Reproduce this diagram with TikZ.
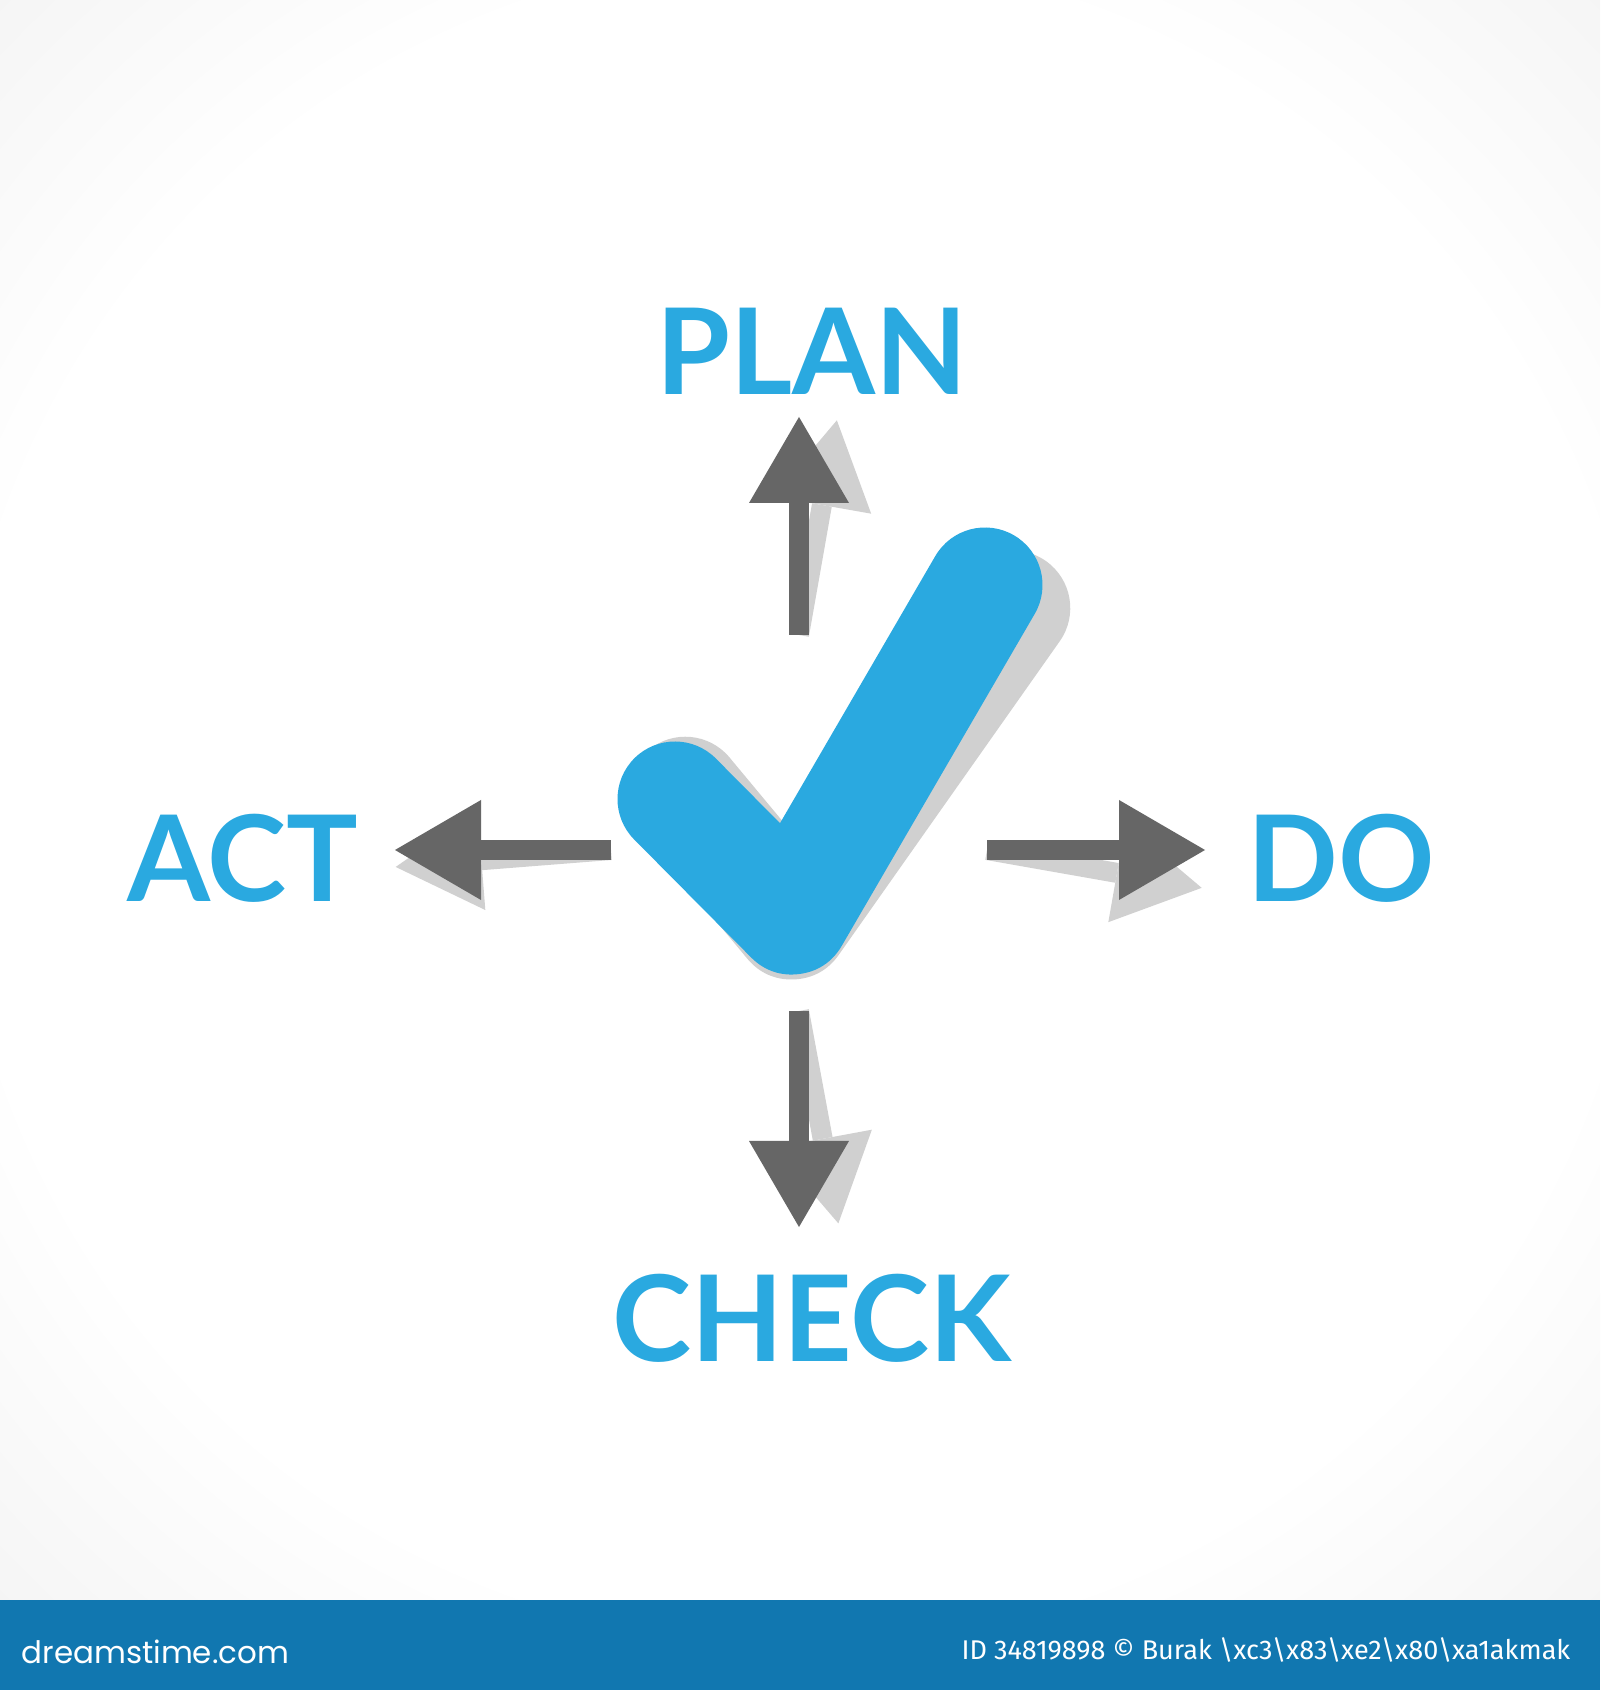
\documentclass[tikz,border=0pt]{standalone}
\usepackage{fontspec}
\setmainfont{Lato}
\newfontfamily\barfont{Fira Sans}
\newfontfamily\logofont{Poppins}
\usetikzlibrary{arrows.meta, positioning}
\definecolor{pdcablue}{RGB}{42,169,224}
\definecolor{arrowgray}{RGB}{102,102,102}
\definecolor{shadowgray}{RGB}{208,208,208}
\definecolor{barblue}{RGB}{17,119,176}
\definecolor{bgedge}{RGB}{230,230,230}
\definecolor{bgcorner}{RGB}{222,222,222}
\pgfdeclareradialshading{bgglow}{\pgfpoint{0bp}{0bp}}{color(0bp)=(white); color(26bp)=(white); color(50bp)=(bgedge); color(72bp)=(bgcorner)}

\tikzset{
  blockarrow/.style={draw=arrowgray, line width=0.2cm, -{Triangle[length=0.86cm, width=1cm, line width=0pt]}},
  shadowarrow/.style={blockarrow, draw=shadowgray},
  steplabel/.style={text=pdcablue, inner sep=0pt, font=\fontsize{34}{34}\selectfont\bfseries},
}

\begin{document}
\begin{tikzpicture}
    \useasboundingbox (-7.99,8.50) rectangle (8.01,-8.40);
    % Background with soft grey edges and the footer bar
    \shade[shading=bgglow] (-7.99,8.50) rectangle (8.01,-7.50);
    \fill[barblue] (-7.99,-7.50) rectangle (8.01,-8.40);

    \coordinate (hub) at (0,0);

    % Check mark with its shadow
    \draw[shadowgray, line width=1.15cm, line cap=round, line join=round, rotate around={-5:(-0.07,-0.67)}, yshift=-0.05cm]
        (-1.24,0.51) -- (-0.07,-0.67) -- (1.86,2.65);
    \draw[pdcablue, line width=1.15cm, line cap=round, line join=round]
        (-1.24,0.51) -- (-0.07,-0.67) -- (1.86,2.65);

    % Feet and tips of the four arrows
    \coordinate (upfoot) at (0,2.15);
    \coordinate (uptip) at (0,4.33);
    \coordinate (downfoot) at (0,-1.61);
    \coordinate (downtip) at (0,-3.77);
    \coordinate (leftfoot) at (-1.88,0);
    \coordinate (lefttip) at (-4.04,0);
    \coordinate (rightfoot) at (1.88,0);
    \coordinate (righttip) at (4.06,0);

    % Shadows first, then the arrows
    \draw[shadowarrow] (upfoot) -- ++(80:2.18);
    \draw[shadowarrow] (downfoot) -- ++(-79.5:2.16);
    \draw[shadowarrow] (leftfoot) -- ++(184.5:2.16);
    \draw[shadowarrow] (rightfoot) -- ++(-10:2.18);
    \draw[blockarrow] (upfoot) -- (uptip);
    \draw[blockarrow] (downfoot) -- (downtip);
    \draw[blockarrow] (leftfoot) -- (lefttip);
    \draw[blockarrow] (rightfoot) -- (righttip);

    % The four steps
    \node[steplabel, above=0.22cm of uptip, xshift=0.13cm] (plan) {PLAN};
    \node[steplabel, right=0.42cm of righttip, yshift=-0.08cm] (do) {DO};
    \node[steplabel, below=0.46cm of downtip, xshift=0.13cm] (check) {CHECK};
    \node[steplabel, left=0.36cm of lefttip, yshift=-0.08cm] (act) {ACT};

    % Footer texts
    \node[anchor=west, text=white, inner sep=0pt, font=\logofont\fontsize{8.8}{8.8}\selectfont] (logo) at (-7.78,-8.02) {dreamstime.com};
    \node[anchor=east, text=white, inner sep=0pt, font=\barfont\fontsize{7.7}{7.7}\selectfont] (credit) at (7.72,-8.00)
        {ID 34819898 \textcopyright{} Burak \textbackslash xc3\textbackslash x83\textbackslash xe2\textbackslash x80\textbackslash xa1akmak};
\end{tikzpicture}
\end{document}
